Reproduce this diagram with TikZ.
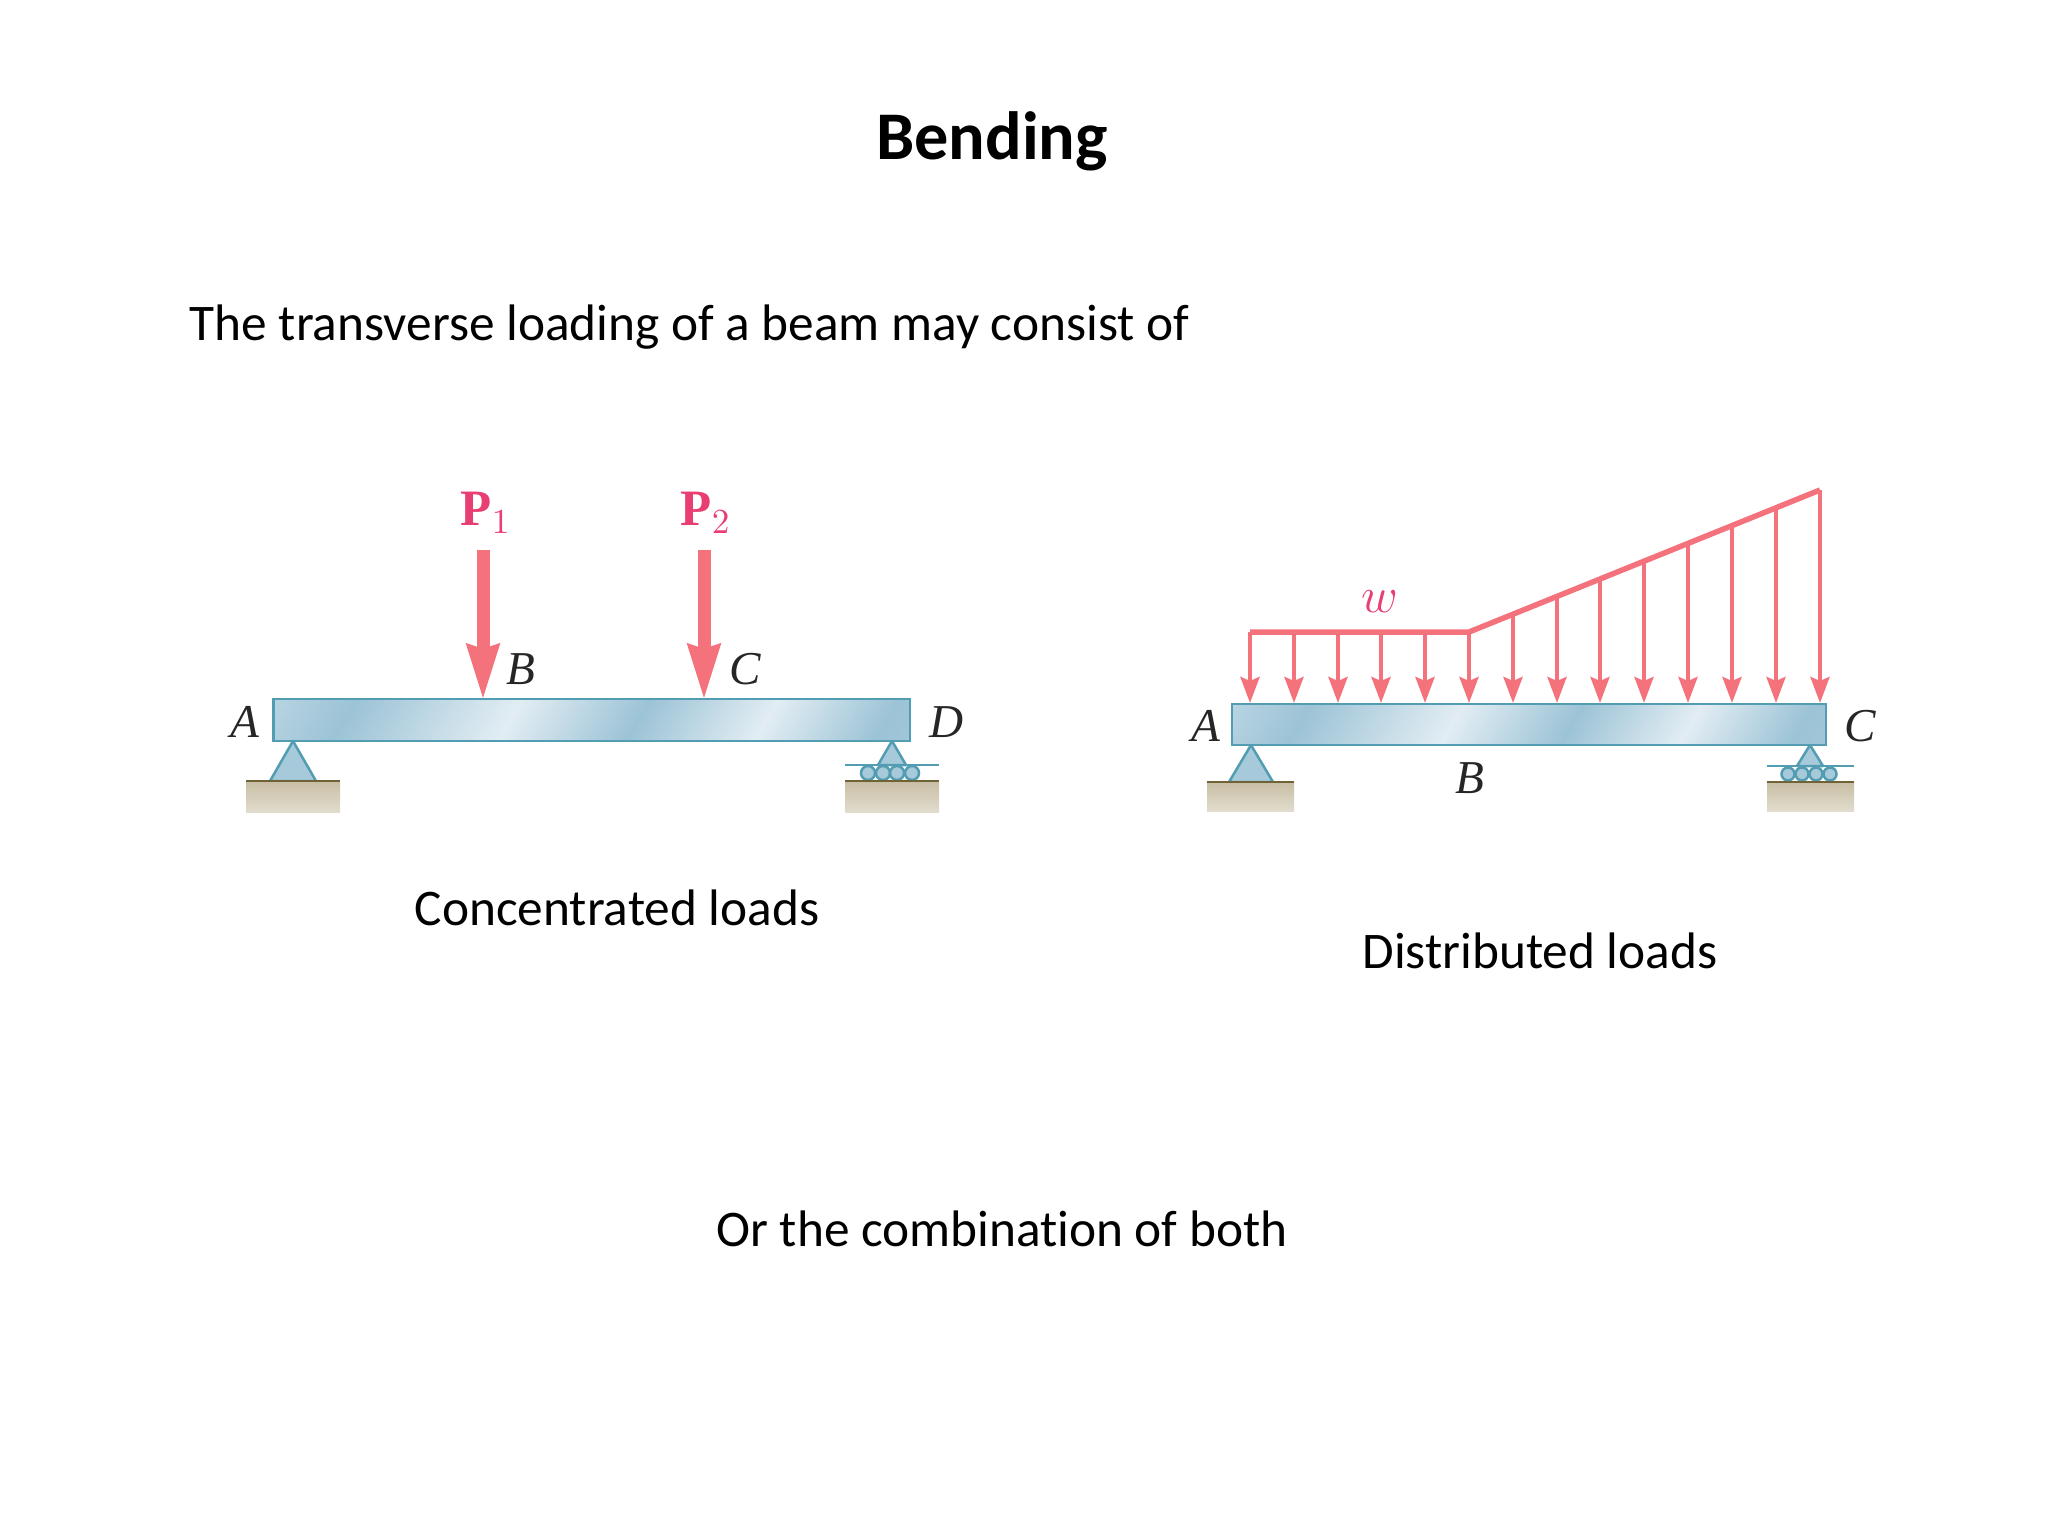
\documentclass[tikz,border=0pt]{standalone}
\usepackage{fontspec}
\usepackage{xcolor}
\usetikzlibrary{arrows.meta}
\newfontfamily\slidefont{Carlito}[Ligatures=NoCommon]
\newfontfamily\labelfont{Liberation Serif}
\definecolor{loadred}{HTML}{F4727C}
\definecolor{loadpink}{HTML}{E83E72}
\definecolor{steeledge}{HTML}{529DB2}
\definecolor{steelmid}{HTML}{A7CADB}
\definecolor{steeldark}{HTML}{9CC3D6}
\definecolor{steellight}{HTML}{E2EDF3}
\definecolor{groundtop}{HTML}{C8BEA4}
\definecolor{groundbot}{HTML}{E1DCCD}
\definecolor{groundline}{HTML}{6F6237}
\pgfdeclarehorizontalshading{beamstreak}{100bp}{color(0bp)=(steelmid); color(30bp)=(steellight!50!steelmid);
  color(36.5bp)=(steeldark); color(45.5bp)=(steellight);
  color(52.5bp)=(steeldark); color(59.5bp)=(steellight); color(66bp)=(steeldark); color(71bp)=(steelmid); color(100bp)=(steelmid)}
\tikzset{
  slidetext/.style={font=\slidefont\fontsize{14.6pt}{17pt}\selectfont,text=black,inner sep=0pt},
  pointlabel/.style={font=\labelfont\itshape\fontsize{13.4pt}{16pt}\selectfont,text=black!85,inner sep=0pt},
  forcelabel/.style={font=\labelfont\bfseries\fontsize{14.5pt}{17pt}\selectfont,text=loadpink,inner sep=0pt},
  bigarrow/.style={loadred,line width=.13cm,-{Stealth[length=.55cm,width=.3cm,inset=.03cm]}},
  smallarrow/.style={loadred,line width=.042cm,-{Stealth[length=.26cm,width=.19cm,inset=.04cm]}},
  loadline/.style={loadred,line width=.055cm,line join=round},
  support/.style={draw=steeledge,fill=steelmid,line width=.025cm,line join=round},
  roller/.style={draw=steeledge,fill=steelmid,line width=.025cm},
  groundblock/.style={top color=groundtop,bottom color=groundbot}
}
\begin{document}
\begin{tikzpicture}[x=.01cm,y=-.01cm]
  \useasboundingbox (0,0) rectangle (2048,1536);
  % texts of the slide
  \node (title) [slidetext,font=\slidefont\bfseries\fontsize{19.4pt}{22pt}\selectfont] at (992,141) {Bending};
  \node (intro) [slidetext,anchor=west] at (189,327) {The transverse loading of a beam may consist of};
  \node (conc) [slidetext] at (617,908) {Concentrated loads};
  \node (dist) [slidetext] at (1540,951) {Distributed loads};
  \node (both) [slidetext] at (1002,1229) {Or the combination of both};

  % left beam
  \coordinate (la) at (273.5,699);
  \coordinate (lb) at (910,741);
  \begin{scope}
    \clip (la) rectangle (lb);
    \shade[shading=beamstreak,shading angle=-30] (192,320) rectangle (992,1120);
  \end{scope}
  \draw[steeledge,line width=.025cm] (la) rectangle (lb);
  \coordinate (lp1) at (483,550);
  \coordinate (lt1) at (483,701);
  \coordinate (lp2) at (704,550);
  \coordinate (lt2) at (704,701);
  \foreach \c/\d in {lp1/lt1,lp2/lt2} {\draw[bigarrow] (\c) -- (\d);}
  \node (P1) [forcelabel] at (486,513) {P$_{1}$};
  \node (P2) [forcelabel] at (706,513) {P$_{2}$};
  \node (lA) [pointlabel] at (245,722) {A};
  \node (lB) [pointlabel] at (521,669) {B};
  \node (lC) [pointlabel] at (745,669) {C};
  \node (lD) [pointlabel] at (947,722) {D};

  % left beam supports
  \draw[support] (293,741) -- (270,781) -- (316,781) -- cycle;
  \shade[groundblock] (246,781) rectangle (340,812);
  \draw[groundline,line width=.02cm] (246,781) -- (340,781);
  \draw[support] (892,741) -- (878,765) -- (906,765) -- cycle;
  \draw[steeledge,line width=.025cm] (845,765) -- (939,765);
  \foreach \x in {868,883,897,912} {\draw[roller] (\x,773) circle (.07cm);}
  \shade[groundblock] (845,781) rectangle (939,812);
  \draw[groundline,line width=.02cm] (845,781) -- (939,781);

  % right beam
  \coordinate (ra) at (1232,704);
  \coordinate (rb) at (1826,745);
  \begin{scope}
    \clip (ra) rectangle (rb);
    \shade[shading=beamstreak,shading angle=-30] (1158,353) rectangle (1900,1095);
  \end{scope}
  \draw[steeledge,line width=.025cm] (ra) rectangle (rb);
  \foreach \n/\x/\y in {1/1250/632,2/1294/632,3/1338/632,4/1381/632,5/1425/632,6/1469/632,7/1513/614,
    8/1557/596,9/1600/579,10/1644/561,11/1688/543,12/1732/525,13/1776/508,14/1820/490} {
    \coordinate (top\n) at (\x,\y);
    \coordinate (tip\n) at (\x,703);
    \draw[smallarrow] (top\n) -- (tip\n);
  }
  \draw[loadline] (top1) -- (top6) -- (top14);
  \node (w) [forcelabel,font=\fontsize{14.5pt}{16pt}\selectfont] at (1380,602) {$w$};
  \node (rA) [pointlabel] at (1206,726) {A};
  \node (rB) [pointlabel] at (1470,778) {B};
  \node (rC) [pointlabel] at (1860,726) {C};

  % right beam supports
  \draw[support] (1251,745) -- (1229,782) -- (1273,782) -- cycle;
  \shade[groundblock] (1207,782) rectangle (1294,811);
  \draw[groundline,line width=.02cm] (1207,782) -- (1294,782);
  \draw[support] (1810,745) -- (1797,766) -- (1823,766) -- cycle;
  \draw[steeledge,line width=.025cm] (1767,766) -- (1854,766);
  \foreach \x in {1788,1802,1816,1830} {\draw[roller] (\x,774) circle (.065cm);}
  \shade[groundblock] (1767,782) rectangle (1854,811);
  \draw[groundline,line width=.02cm] (1767,782) -- (1854,782);
\end{tikzpicture}
\end{document}
